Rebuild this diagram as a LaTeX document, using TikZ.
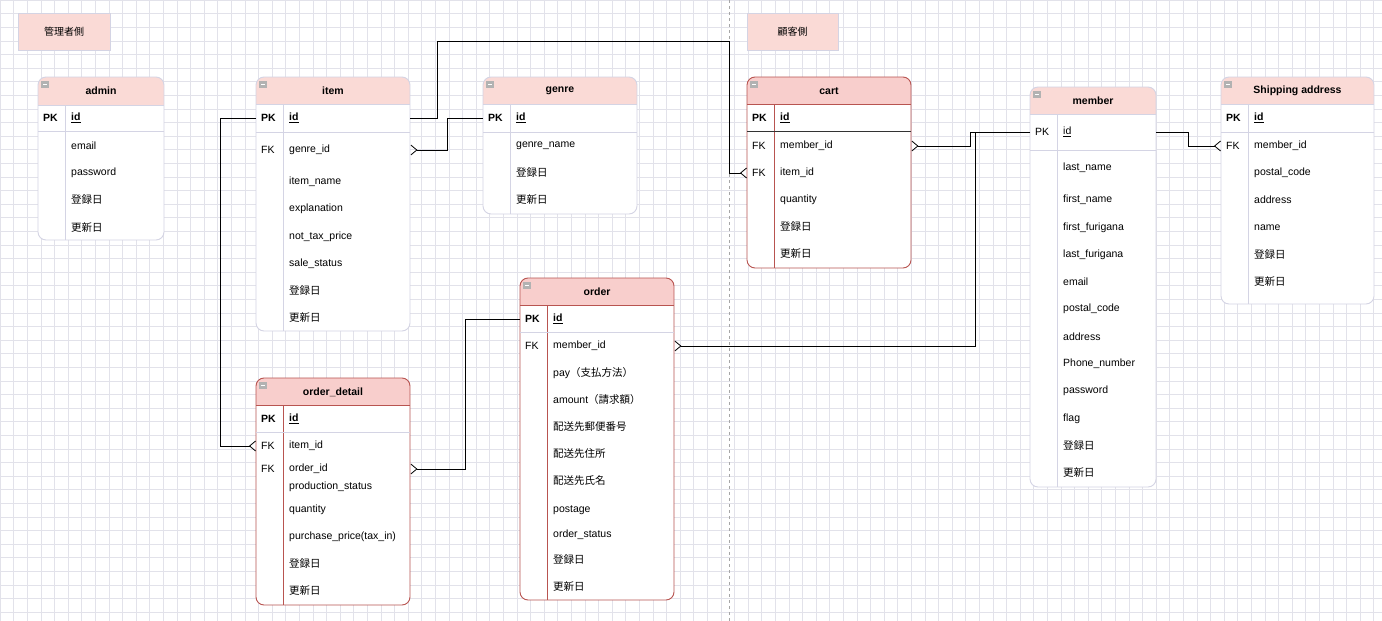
\documentclass[tikz,border=0pt]{standalone}
\usepackage{fontspec}
\setmainfont{Liberation Sans}
\newfontfamily\jp{Noto Sans CJK JP}
\usetikzlibrary{arrows.meta}
\definecolor{gridc}{HTML}{E2E2EA}
\definecolor{ltb}{HTML}{D4D4E4}
\definecolor{ltf}{HTML}{FADAD6}
\definecolor{rdb}{HTML}{B85450}
\definecolor{rdf}{HTML}{F8CECC}
\tikzset{
  fld/.style={anchor=west,inner sep=0pt,font=\fontsize{10.5}{12}\selectfont},
  key/.style={anchor=west,inner sep=0pt,font=\fontsize{10.5}{12}\selectfont\bfseries},
  ttl/.style={inner sep=0pt,font=\fontsize{10.5}{12}\selectfont\bfseries},
  crow/.style={draw=black,line width=0.9pt,-{Straight Barb[reversed,length=6pt,width=10pt,line width=0.8pt]}},
  lbl/.style={draw=ltb,fill=ltf,inner sep=0pt,font=\jp\fontsize{10}{12}\selectfont}
}
\newcommand\erbox[9]{%
  \node[draw=none,inner sep=0pt,anchor=north west,minimum width={(#5-#3)*1pt},minimum height={(#6-#4)*1pt}] (#1) at (#3,#4) {};
  \begin{scope}
    \clip[rounded corners=8pt] (#3,#4) rectangle (#5,#6);
    \fill[fill=white] (#3,#4) rectangle (#5,#6);
    \fill[fill=\hdr] (#3,#4) rectangle (#5,#7);
  \end{scope}
  \draw[#9,line width=0.8pt] (#3,#7) -- (#5,#7);
  \draw[#9,line width=0.8pt] (#8,#7) -- (#8,#6);
  \draw[#9,line width=0.9pt,rounded corners=8pt] (#3,#4) rectangle (#5,#6);
  \fill[gray!60] (#3+3,#4+4) rectangle (#3+11,#4+11);
  \draw[white,line width=0.8pt] (#3+5,#4+7.5) -- (#3+9,#4+7.5);
  \node[ttl] at ({(#3+#5)/2},{#4+14}) {#2};
}
\begin{document}
\begin{tikzpicture}[x=1pt,y=-1pt]
\useasboundingbox (0,0) rectangle (1382,621);
\fill[white] (0,0) rectangle (1382,621);
\foreach \i in {0,...,102} \draw[gridc,line width=0.5pt] ({\i*13.6},0) -- ({\i*13.6},621);
\foreach \i in {0,...,46} \draw[gridc,line width=0.5pt] (0,{\i*13.6}) -- (1382,{\i*13.6});
\draw[gray!70,dashed,line width=0.7pt] (729,0) -- (729,621);

\node[lbl,anchor=north west,minimum width=92pt,minimum height=37pt] (lblA) at (18,13) {管理者側};
\node[lbl,anchor=north west,minimum width=91pt,minimum height=37pt] (lblB) at (747,13) {顧客側};

\def\hdr{ltf}
\erbox{admin}{admin}{38}{77}{164}{240}{105}{65}{ltb}
\draw[ltb,line width=0.8pt] (38,131) -- (164,131);
\node[key] (admin-pk) at (43,118) {PK};
\node[key] (admin-id) at (71,118) {\underline{id}};
\node[fld] (admin-email) at (71,146) {email};
\node[fld] (admin-pw) at (71,173) {password};
\node[fld] (admin-r) at (71,200) {\jp 登録日};
\node[fld] (admin-u) at (71,228) {\jp 更新日};

\erbox{item}{item}{256}{77}{410}{331}{104}{283}{ltb}
\draw[ltb,line width=0.8pt] (256,132) -- (410,132);
\node[key] (item-pk) at (261,118) {PK};
\node[key] (item-id) at (289,118) {\underline{id}};
\node[fld] (item-fk) at (261,150) {FK};
\node[fld] (item-genreid) at (289,150) {genre\_id};
\node[fld] (item-name) at (289,182) {item\_name};
\node[fld] (item-exp) at (289,209) {explanation};
\node[fld] (item-price) at (289,237) {not\_tax\_price};
\node[fld] (item-sale) at (289,264) {sale\_status};
\node[fld] (item-r) at (289,291) {\jp 登録日};
\node[fld] (item-u) at (289,318) {\jp 更新日};

\erbox{genre}{genre}{483}{77}{637}{214}{104}{510}{ltb}
\draw[ltb,line width=0.8pt] (483,132) -- (637,132);
\node[key] (genre-pk) at (488,118) {PK};
\node[key] (genre-id) at (516,118) {\underline{id}};
\node[fld] (genre-name) at (516,146) {genre\_name};
\node[fld] (genre-r) at (516,173) {\jp 登録日};
\node[fld] (genre-u) at (516,200) {\jp 更新日};

\erbox{member}{member}{1030}{87}{1156}{487}{114}{1057}{ltb}
\draw[ltb,line width=0.8pt] (1030,150) -- (1156,150);
\node[fld] (member-pk) at (1035,132) {PK};
\node[fld] (member-id) at (1063,132) {\underline{id}};
\foreach \n/\t/\y in {ln/last\_name/168,fn/first\_name/200,ff/first\_furigana/228,lf/last\_furigana/255,em/email/282,pc/postal\_code/309,ad/address/337,ph/Phone\_number/364,pw/password/391,fl/flag/419}
  \node[fld] (member-\n) at (1063,\y) {\t};
\node[fld] (member-r) at (1063,446) {\jp 登録日};
\node[fld] (member-u) at (1063,473) {\jp 更新日};

\erbox{ship}{Shipping address}{1221}{77}{1374}{304}{104}{1248}{ltb}
\draw[ltb,line width=0.8pt] (1221,132) -- (1374,132);
\node[key] (ship-pk) at (1226,118) {PK};
\node[key] (ship-id) at (1254,118) {\underline{id}};
\node[fld] (ship-fk) at (1226,146) {FK};
\node[fld] (ship-memberid) at (1254,146) {member\_id};
\node[fld] (ship-pc) at (1254,173) {postal\_code};
\node[fld] (ship-ad) at (1254,200) {address};
\node[fld] (ship-nm) at (1254,228) {name};
\node[fld] (ship-r) at (1254,255) {\jp 登録日};
\node[fld] (ship-u) at (1254,282) {\jp 更新日};

\def\hdr{rdf}
\erbox{cart}{cart}{747}{77}{911}{268}{104}{774}{rdb}
\draw[black!80,line width=0.9pt] (747,131) -- (911,131);
\node[key] (cart-pk) at (752,118) {PK};
\node[key] (cart-id) at (780,118) {\underline{id}};
\node[fld] (cart-fk1) at (752,146) {FK};
\node[fld] (cart-memberid) at (780,146) {member\_id};
\node[fld] (cart-fk2) at (752,173) {FK};
\node[fld] (cart-itemid) at (780,173) {item\_id};
\node[fld] (cart-q) at (780,200) {quantity};
\node[fld] (cart-r) at (780,227) {\jp 登録日};
\node[fld] (cart-u) at (780,254) {\jp 更新日};

\erbox{order}{order}{520}{278}{674}{600}{305}{547}{rdb}
\draw[ltb,line width=0.8pt] (520,332) -- (674,332);
\node[key] (order-pk) at (525,319) {PK};
\node[key] (order-id) at (553,319) {\underline{id}};
\node[fld] (order-fk) at (525,346) {FK};
\node[fld] (order-memberid) at (553,346) {member\_id};
\node[fld] (order-pay) at (553,373) {pay{\jp（支払方法）}};
\node[fld] (order-amt) at (553,400) {amount{\jp（請求額）}};
\node[fld] (order-zip) at (553,427) {\jp 配送先郵便番号};
\node[fld] (order-addr) at (553,454) {\jp 配送先住所};
\node[fld] (order-nm) at (553,481) {\jp 配送先氏名};
\node[fld] (order-post) at (553,510) {postage};
\node[fld] (order-st) at (553,535) {order\_status};
\node[fld] (order-r) at (553,560) {\jp 登録日};
\node[fld] (order-u) at (553,587) {\jp 更新日};

\erbox{od}{order\_detail}{256}{378}{410}{605}{405}{283}{rdb}
\draw[ltb,line width=0.8pt] (256,432) -- (410,432);
\node[key] (od-pk) at (261,419) {PK};
\node[key] (od-id) at (289,419) {\underline{id}};
\node[fld] (od-fk1) at (261,446) {FK};
\node[fld] (od-itemid) at (289,446) {item\_id};
\node[fld] (od-fk2) at (261,469) {FK};
\node[fld] (od-orderid) at (289,469) {order\_id};
\node[fld] (od-ps) at (289,487) {production\_status};
\node[fld] (od-q) at (289,510) {quantity};
\node[fld] (od-pp) at (289,537) {purchase\_price(tax\_in)};
\node[fld] (od-r) at (289,564) {\jp 登録日};
\node[fld] (od-u) at (289,591) {\jp 更新日};

\coordinate (c1) at (437,41);
\coordinate (c2) at (729,41);
\draw[crow] (item.east|-item-id) -| (c1) -- (c2) |- (cart.west|-cart-itemid);
\draw[crow] (genre.west|-genre-id) -- ++(-36,0) |- (item.east|-item-genreid);
\draw[crow] (item.west|-item-id) -- ++(-36,0) |- (od.west|-od-itemid);
\draw[crow] (order.west|-order-id) -- ++(-55,0) |- (od.east|-od-orderid);
\draw[crow] (member.west|-member-id) -- ++(-60,0) |- (cart.east|-cart-memberid);
\draw[crow] (member.west|-member-id) -- ++(-55,0) |- (order.east|-order-memberid);
\draw[crow] (member.east|-member-id) -- ++(32,0) |- (ship.west|-ship-memberid);
\end{tikzpicture}
\end{document}
